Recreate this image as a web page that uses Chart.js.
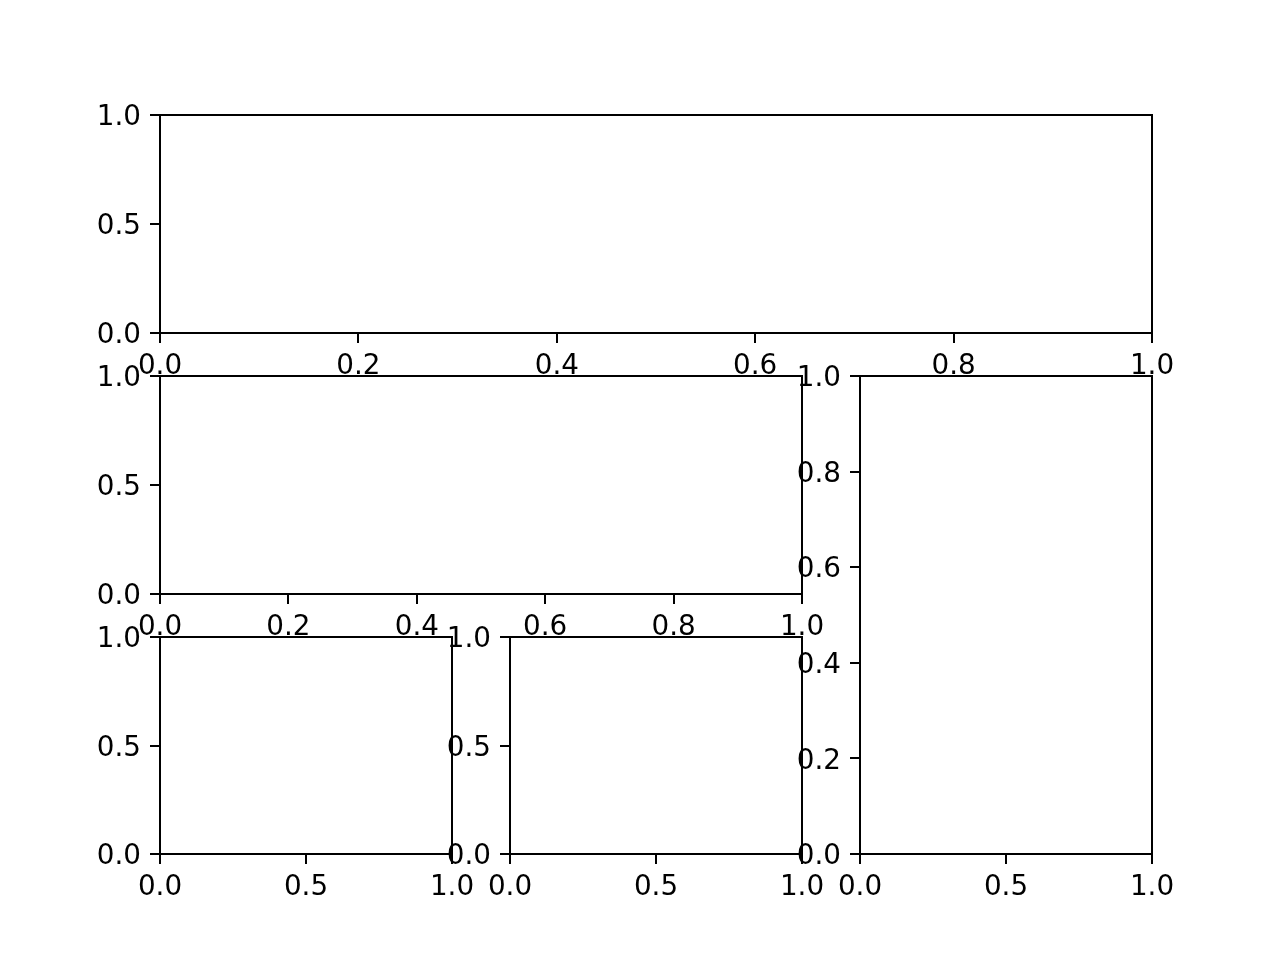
<!DOCTYPE html>
<html>
<head>
<meta charset="utf-8">
<script src="https://cdn.jsdelivr.net/npm/chart.js@4.4.1/dist/chart.umd.min.js"></script>
<style>
  html, body { margin: 0; padding: 0; background: #fff; }
  #fig { position: relative; width: 1280px; height: 960px; overflow: hidden; }
  #fig canvas { position: absolute; }
</style>
</head>
<body>
<div id="fig"></div>
<script>
// tick values for each of the five (empty) axes
const wideTicks = [0, 0.2, 0.4, 0.6, 0.8, 1.0];
const halfTicks = [0, 0.5, 1.0];

// which ticks go on which panel
const panels = [
    { id: 'ax1', box: [160, 115, 992, 218], xTicks: wideTicks, yTicks: halfTicks },
    { id: 'ax2', box: [160, 376, 642, 218], xTicks: wideTicks, yTicks: halfTicks },
    { id: 'ax3', box: [860, 376, 292, 478], xTicks: halfTicks, yTicks: wideTicks },
    { id: 'ax4', box: [160, 637, 292, 217], xTicks: halfTicks, yTicks: halfTicks },
    { id: 'ax5', box: [510, 637, 292, 217], xTicks: halfTicks, yTicks: halfTicks }
];

const PAD = 30;   // room for labels sticking out
const Y_W = 70;   // fixed y axis width
const X_H = 50;   // fixed x axis height

const font = { family: 'DejaVu Sans', size: 27.8 };

// draw all four spines round the plot area
const framePlugin = {
    id: 'frame',
    afterDraw(chart) {
        const a = chart.chartArea;
        const c = chart.ctx;
        c.save();
        c.strokeStyle = '#000';
        c.lineWidth = 2;
        c.strokeRect(a.left, a.top, a.right - a.left, a.bottom - a.top);
        c.restore();
    }
};

function axisOpts(ticks, isX) {
    return {
        type: 'linear',
        min: 0,
        max: 1,
        border: { display: false },
        grid: {
            display: true,
            drawOnChartArea: false,
            drawTicks: true,
            tickLength: 10,
            tickWidth: 2,
            tickColor: '#000',
            color: '#000',
            lineWidth: 2
        },
        ticks: {
            autoSkip: false,
            maxRotation: 0,
            color: '#000',
            font: font,
            padding: isX ? 7 : 9,
            labelOffset: isX ? 0 : 3,
            callback: v => Number(v).toFixed(1)
        },
        afterBuildTicks: scale => {
            scale.ticks = ticks.map(v => ({ value: v }));
        },
        afterFit: scale => {
            if (isX) scale.height = X_H; else scale.width = Y_W;
            scale.paddingLeft = 0;
            scale.paddingRight = 0;
            scale.paddingTop = 0;
            scale.paddingBottom = 0;
        }
    };
}

const fig = document.getElementById('fig');

panels.forEach(p => {
    const [left, top, w, h] = p.box;
    const cv = document.createElement('canvas');
    cv.id = p.id;
    cv.width = PAD + Y_W + w + PAD;
    cv.height = PAD + h + X_H + PAD;
    cv.style.left = (left - PAD - Y_W) + 'px';
    cv.style.top = (top - PAD) + 'px';
    cv.style.width = cv.width + 'px';
    cv.style.height = cv.height + 'px';
    fig.appendChild(cv);

    new Chart(cv.getContext('2d'), {
        type: 'scatter',
        data: { datasets: [{ data: [] }] },
        options: {
            responsive: false,
            animation: false,
            devicePixelRatio: 1,
            layout: { padding: PAD },
            plugins: {
                legend: { display: false },
                tooltip: { enabled: false }
            },
            scales: {
                x: axisOpts(p.xTicks, true),
                y: axisOpts(p.yTicks, false)
            }
        },
        plugins: [framePlugin]
    });
});
</script>
</body>
</html>
